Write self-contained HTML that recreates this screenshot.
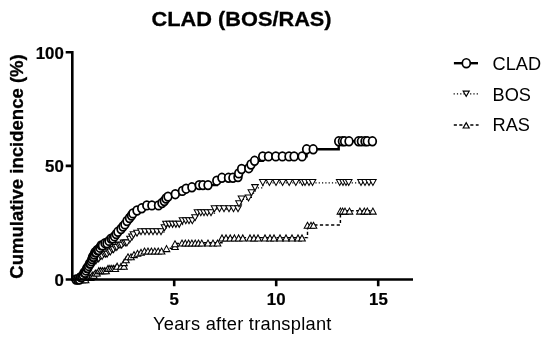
<!DOCTYPE html>
<html><head><meta charset="utf-8"><title>CLAD (BOS/RAS)</title>
<style>html,body{margin:0;padding:0;background:#fff}svg{display:block}</style></head>
<body>
<svg width="550" height="342" viewBox="0 0 550 342">
<rect width="550" height="342" fill="#fff"/>
<g font-family="'Liberation Sans', sans-serif" fill="#000">
<text x="241.6" y="25.5" font-size="20.7" font-weight="bold" text-anchor="middle" stroke="#000" stroke-width="0.3" textLength="180" lengthAdjust="spacingAndGlyphs">CLAD (BOS/RAS)</text>
<text transform="translate(23.3,166.5) rotate(-90)" font-size="18.55" font-weight="bold" text-anchor="middle" stroke="#000" stroke-width="0.3">Cumulative incidence (%)</text>
<text x="242.2" y="330.3" font-size="18.25" text-anchor="middle" textLength="178.4" lengthAdjust="spacing">Years after transplant</text>
<g font-size="15.9" font-weight="bold" stroke="#000" stroke-width="0.2">
<text transform="translate(63.8,58.5) scale(1.06,1)" text-anchor="end">100</text>
<text transform="translate(63.8,171.9) scale(1.06,1)" text-anchor="end">50</text>
<text transform="translate(63.8,285.5) scale(1.06,1)" text-anchor="end">0</text>
<text transform="translate(174.2,305.4) scale(1.06,1)" text-anchor="middle">5</text>
<text transform="translate(276.2,305.4) scale(1.06,1)" text-anchor="middle">10</text>
<text transform="translate(378.4,305.4) scale(1.06,1)" text-anchor="middle">15</text>
</g>
<g font-size="18.2">
<text x="492.6" y="70">CLAD</text>
<text x="492.6" y="100.6">BOS</text>
<text x="492.6" y="131.2">RAS</text>
</g></g>
<g fill="none" stroke="#000">
<path d="M72.2,279.5H80.0V279.5H81.9V279.5H83.7V279.5H85.6V279.5H87.5V277.2H89.1V277.2H90.7V277.2H92.3V275.0H93.8V275.0H95.3V272.7H97.0V272.7H98.8V270.4H100.6V270.4H102.4V270.4H104.3V270.4H106.1V270.4H108.0V268.1H109.9V268.1H111.8V268.1H113.6V268.1H115.3V268.1H117.1V265.9H121.0V266.0H124.0V266.0H124.0V262.3H126.0V259.5H128.0V256.5H131.0V256.5H134.0V254.3H137.5V253.0H141.0V252.0H144.5V250.7H148.0V250.7H151.4V250.7H154.8V250.7H158.2V250.7H161.6V250.7H166.5V248.3H175.0V246.2H175.0V243.5H182.0V242.7H185.3V242.7H188.6V242.7H191.9V242.7H195.2V242.7H198.5V242.7H201.8V242.7H208.0V242.7H213.0V242.7H217.5V242.7H222.0V237.6H226.0V237.6H230.2V237.6H234.4V237.6H238.6V237.6H242.8V237.6H250.0V237.6H254.0V237.6H258.0V237.6H265.0V237.6H270.0V237.6H274.0V237.6H280.0V237.6H286.0V237.6H292.0V237.6H298.0V237.6H302.0V237.6H307.5V225.0H311.0V225.0H313.5V225.0H340.4V210.8H342.6V210.8H345.0V210.8H349.5V210.8H359.9V210.8H364.3V210.8H367.3V210.8H372.9V210.8" stroke-width="1.45" stroke-dasharray="3.2 2.4"/>
<path d="M72.2,279.5H78.0V279.5H79.7V279.5H81.4V277.2H83.1V277.2H84.3V275.0H85.4V275.0H86.6V272.7H87.7V270.4H88.8V270.4H89.9V268.1H91.0V265.9H92.1V263.6H93.2V263.6H94.4V261.3H95.8V261.3H97.2V259.1H98.7V259.1H100.4V256.8H102.1V256.8H103.8V254.5H105.5V254.5H107.1V254.5H108.7V252.3H110.3V252.3H111.9V250.0H113.5V250.0H115.2V247.7H116.8V247.7H118.4V245.4H120.0V245.4H121.7V245.4H123.5V243.2H125.3V243.2H126.9V243.2H130.0V239.5H132.0V237.2H133.5V235.0H137.0V233.5H141.0V232.0H145.0V232.0H149.0V232.0H153.0V232.0H157.0V232.0H161.0V232.0H164.5V228.0H166.0V224.6H169.3V224.6H172.6V224.6H175.9V224.6H179.2V224.6H182.5V221.0H185.8V221.0H189.0V221.0H192.3V221.0H195.0V218.0H197.5V213.0H200.8V213.0H204.0V213.0H207.3V213.0H211.0V213.0H214.5V209.0H219.5V209.0H224.0V209.0H229.0V209.0H233.5V209.0H238.0V209.0H239.0V204.0H241.5V199.3H248.5V198.2H251.4V193.0H255.0V187.9H262.8V182.8H269.4V182.8H276.0V182.8H282.6V182.8H289.2V182.8H295.8V182.8H302.4V182.8H305.0V182.8H309.0V182.8H312.5V182.8H339.7V182.8H343.0V182.8H346.0V182.8H348.7V182.8H361.0V182.8H365.0V182.8H369.0V182.8H372.9V182.8" stroke-width="1.25" stroke-dasharray="1.2 2.1"/>
<path d="M72.2,279.5H76.0V279.5H77.7V279.5H79.4V279.5H80.6V277.2H81.9V277.2H83.1V275.0H84.1V272.7H85.1V272.7H86.0V270.4H86.9V268.1H87.8V268.1H88.6V265.9H89.5V263.6H90.4V263.6H91.2V261.3H91.9V259.1H92.7V256.8H93.5V256.8H94.2V254.5H95.0V252.3H96.0V252.3H97.3V250.0H98.6V250.0H99.9V247.7H101.2V245.4H102.5V245.4H105.0V243.2H107.0V243.2H109.0V240.9H111.0V238.6H112.8V238.6H114.5V236.4H116.2V234.1H117.9V231.8H121.0V229.0H123.0V226.5H124.9V224.4H127.0V221.0H129.5V218.0H131.5V215.5H132.9V213.4H137.0V210.5H141.7V208.3H146.8V205.4H151.9V205.4H158.5V205.4H162.0V203.0H164.3V201.0H166.0V198.5H168.0V196.6H175.3V194.2H182.4V190.9H186.1V188.7H191.9V187.3H199.2V185.1H202.9V185.1H208.0V185.1H216.8V180.7H221.9V177.8H228.5V177.8H232.9V177.8H238.0V177.0H238.7V173.4H241.6V169.0H248.8V168.2H251.0V164.5H254.6V160.8H262.7V156.4H268.5V156.4H275.8V156.4H282.4V156.4H289.0V156.4H294.1V156.4H302.1V156.4H306.6V149.3H313.2V149.3H338.7V141.3H342.4V141.3H344.6V141.3H349.0V141.3H358.5V141.3H361.4V141.3H365.0V141.3H367.3V141.3H372.4V141.3" stroke-width="2.4"/>
</g>
<g fill="#fff" stroke="#000" stroke-width="1.05" stroke-linejoin="miter">
<path d="M76.7,282.8H83.3L80.0,276.8Z"/><path d="M78.6,282.8H85.2L81.9,276.8Z"/><path d="M80.4,282.8H87.0L83.7,276.8Z"/><path d="M82.3,282.8H88.9L85.6,276.8Z"/><path d="M84.2,280.5H90.8L87.5,274.5Z"/><path d="M85.8,280.5H92.4L89.1,274.5Z"/><path d="M87.4,280.5H94.0L90.7,274.5Z"/><path d="M89.0,278.2H95.6L92.3,272.2Z"/><path d="M90.5,278.2H97.1L93.8,272.2Z"/><path d="M92.0,276.0H98.6L95.3,270.0Z"/><path d="M93.7,276.0H100.3L97.0,270.0Z"/><path d="M95.5,273.7H102.1L98.8,267.7Z"/><path d="M97.3,273.7H103.9L100.6,267.7Z"/><path d="M99.1,273.7H105.7L102.4,267.7Z"/><path d="M101.0,273.7H107.6L104.3,267.7Z"/><path d="M102.8,273.7H109.4L106.1,267.7Z"/><path d="M104.7,271.4H111.3L108.0,265.4Z"/><path d="M106.6,271.4H113.2L109.9,265.4Z"/><path d="M108.5,271.4H115.1L111.8,265.4Z"/><path d="M110.3,271.4H116.9L113.6,265.4Z"/><path d="M112.0,271.4H118.6L115.3,265.4Z"/><path d="M113.8,269.2H120.4L117.1,263.2Z"/><path d="M117.7,269.3H124.3L121.0,263.3Z"/><path d="M120.7,269.3H127.3L124.0,263.3Z"/><path d="M120.7,265.6H127.3L124.0,259.6Z"/><path d="M122.7,262.8H129.3L126.0,256.8Z"/><path d="M124.7,259.8H131.3L128.0,253.8Z"/><path d="M127.7,259.8H134.3L131.0,253.8Z"/><path d="M130.7,257.6H137.3L134.0,251.6Z"/><path d="M134.2,256.3H140.8L137.5,250.3Z"/><path d="M137.7,255.3H144.3L141.0,249.3Z"/><path d="M141.2,254.0H147.8L144.5,248.0Z"/><path d="M144.7,254.0H151.3L148.0,248.0Z"/><path d="M148.1,254.0H154.7L151.4,248.0Z"/><path d="M151.5,254.0H158.1L154.8,248.0Z"/><path d="M154.9,254.0H161.5L158.2,248.0Z"/><path d="M158.3,254.0H164.9L161.6,248.0Z"/><path d="M163.2,251.6H169.8L166.5,245.6Z"/><path d="M171.7,249.5H178.3L175.0,243.5Z"/><path d="M171.7,246.8H178.3L175.0,240.8Z"/><path d="M178.7,246.0H185.3L182.0,240.0Z"/><path d="M182.0,246.0H188.6L185.3,240.0Z"/><path d="M185.3,246.0H191.9L188.6,240.0Z"/><path d="M188.6,246.0H195.2L191.9,240.0Z"/><path d="M191.9,246.0H198.5L195.2,240.0Z"/><path d="M195.2,246.0H201.8L198.5,240.0Z"/><path d="M198.5,246.0H205.1L201.8,240.0Z"/><path d="M204.7,246.0H211.3L208.0,240.0Z"/><path d="M209.7,246.0H216.3L213.0,240.0Z"/><path d="M214.2,246.0H220.8L217.5,240.0Z"/><path d="M218.7,240.9H225.3L222.0,234.9Z"/><path d="M222.7,240.9H229.3L226.0,234.9Z"/><path d="M226.9,240.9H233.5L230.2,234.9Z"/><path d="M231.1,240.9H237.7L234.4,234.9Z"/><path d="M235.3,240.9H241.9L238.6,234.9Z"/><path d="M239.5,240.9H246.1L242.8,234.9Z"/><path d="M246.7,240.9H253.3L250.0,234.9Z"/><path d="M250.7,240.9H257.3L254.0,234.9Z"/><path d="M254.7,240.9H261.3L258.0,234.9Z"/><path d="M261.7,240.9H268.3L265.0,234.9Z"/><path d="M266.7,240.9H273.3L270.0,234.9Z"/><path d="M270.7,240.9H277.3L274.0,234.9Z"/><path d="M276.7,240.9H283.3L280.0,234.9Z"/><path d="M282.7,240.9H289.3L286.0,234.9Z"/><path d="M288.7,240.9H295.3L292.0,234.9Z"/><path d="M294.7,240.9H301.3L298.0,234.9Z"/><path d="M298.7,240.9H305.3L302.0,234.9Z"/><path d="M304.2,228.3H310.8L307.5,222.3Z"/><path d="M307.7,228.3H314.3L311.0,222.3Z"/><path d="M310.2,228.3H316.8L313.5,222.3Z"/><path d="M337.1,214.1H343.7L340.4,208.1Z"/><path d="M339.3,214.1H345.9L342.6,208.1Z"/><path d="M341.7,214.1H348.3L345.0,208.1Z"/><path d="M346.2,214.1H352.8L349.5,208.1Z"/><path d="M356.6,214.1H363.2L359.9,208.1Z"/><path d="M361.0,214.1H367.6L364.3,208.1Z"/><path d="M364.0,214.1H370.6L367.3,208.1Z"/><path d="M369.6,214.1H376.2L372.9,208.1Z"/>
</g><g fill="#fff" stroke="#000" stroke-width="1.05" stroke-linejoin="miter">
<path d="M74.7,276.2H81.3L78.0,282.2Z"/><path d="M76.4,276.2H83.0L79.7,282.2Z"/><path d="M78.1,274.0H84.7L81.4,280.0Z"/><path d="M79.8,274.0H86.4L83.1,280.0Z"/><path d="M81.0,271.7H87.6L84.3,277.7Z"/><path d="M82.1,271.7H88.7L85.4,277.7Z"/><path d="M83.3,269.4H89.9L86.6,275.4Z"/><path d="M84.4,267.1H91.0L87.7,273.1Z"/><path d="M85.5,267.1H92.1L88.8,273.1Z"/><path d="M86.6,264.9H93.2L89.9,270.9Z"/><path d="M87.7,262.6H94.3L91.0,268.6Z"/><path d="M88.8,260.3H95.4L92.1,266.3Z"/><path d="M89.9,260.3H96.5L93.2,266.3Z"/><path d="M91.1,258.1H97.7L94.4,264.1Z"/><path d="M92.5,258.1H99.1L95.8,264.1Z"/><path d="M93.9,255.8H100.5L97.2,261.8Z"/><path d="M95.4,255.8H102.0L98.7,261.8Z"/><path d="M97.1,253.5H103.7L100.4,259.5Z"/><path d="M98.8,253.5H105.4L102.1,259.5Z"/><path d="M100.5,251.2H107.1L103.8,257.2Z"/><path d="M102.2,251.2H108.8L105.5,257.2Z"/><path d="M103.8,251.2H110.4L107.1,257.2Z"/><path d="M105.4,249.0H112.0L108.7,255.0Z"/><path d="M107.0,249.0H113.6L110.3,255.0Z"/><path d="M108.6,246.7H115.2L111.9,252.7Z"/><path d="M110.2,246.7H116.8L113.5,252.7Z"/><path d="M111.9,244.4H118.5L115.2,250.4Z"/><path d="M113.5,244.4H120.1L116.8,250.4Z"/><path d="M115.1,242.2H121.7L118.4,248.2Z"/><path d="M116.7,242.2H123.3L120.0,248.2Z"/><path d="M118.4,242.2H125.0L121.7,248.2Z"/><path d="M120.2,239.9H126.8L123.5,245.9Z"/><path d="M122.0,239.9H128.6L125.3,245.9Z"/><path d="M123.6,239.9H130.2L126.9,245.9Z"/><path d="M126.7,236.2H133.3L130.0,242.2Z"/><path d="M128.7,233.9H135.3L132.0,239.9Z"/><path d="M130.2,231.7H136.8L133.5,237.7Z"/><path d="M133.7,230.2H140.3L137.0,236.2Z"/><path d="M137.7,228.7H144.3L141.0,234.7Z"/><path d="M141.7,228.7H148.3L145.0,234.7Z"/><path d="M145.7,228.7H152.3L149.0,234.7Z"/><path d="M149.7,228.7H156.3L153.0,234.7Z"/><path d="M153.7,228.7H160.3L157.0,234.7Z"/><path d="M157.7,228.7H164.3L161.0,234.7Z"/><path d="M161.2,224.7H167.8L164.5,230.7Z"/><path d="M162.7,221.3H169.3L166.0,227.3Z"/><path d="M166.0,221.3H172.6L169.3,227.3Z"/><path d="M169.3,221.3H175.9L172.6,227.3Z"/><path d="M172.6,221.3H179.2L175.9,227.3Z"/><path d="M175.9,221.3H182.5L179.2,227.3Z"/><path d="M179.2,217.7H185.8L182.5,223.7Z"/><path d="M182.5,217.7H189.1L185.8,223.7Z"/><path d="M185.7,217.7H192.3L189.0,223.7Z"/><path d="M189.0,217.7H195.6L192.3,223.7Z"/><path d="M191.7,214.7H198.3L195.0,220.7Z"/><path d="M194.2,209.7H200.8L197.5,215.7Z"/><path d="M197.5,209.7H204.1L200.8,215.7Z"/><path d="M200.7,209.7H207.3L204.0,215.7Z"/><path d="M204.0,209.7H210.6L207.3,215.7Z"/><path d="M207.7,209.7H214.3L211.0,215.7Z"/><path d="M211.2,205.7H217.8L214.5,211.7Z"/><path d="M216.2,205.7H222.8L219.5,211.7Z"/><path d="M220.7,205.7H227.3L224.0,211.7Z"/><path d="M225.7,205.7H232.3L229.0,211.7Z"/><path d="M230.2,205.7H236.8L233.5,211.7Z"/><path d="M234.7,205.7H241.3L238.0,211.7Z"/><path d="M235.7,200.7H242.3L239.0,206.7Z"/><path d="M238.2,196.0H244.8L241.5,202.0Z"/><path d="M245.2,194.9H251.8L248.5,200.9Z"/><path d="M248.1,189.7H254.7L251.4,195.7Z"/><path d="M251.7,184.6H258.3L255.0,190.6Z"/><path d="M259.5,179.5H266.1L262.8,185.5Z"/><path d="M266.1,179.5H272.7L269.4,185.5Z"/><path d="M272.7,179.5H279.3L276.0,185.5Z"/><path d="M279.3,179.5H285.9L282.6,185.5Z"/><path d="M285.9,179.5H292.5L289.2,185.5Z"/><path d="M292.5,179.5H299.1L295.8,185.5Z"/><path d="M299.1,179.5H305.7L302.4,185.5Z"/><path d="M301.7,179.5H308.3L305.0,185.5Z"/><path d="M305.7,179.5H312.3L309.0,185.5Z"/><path d="M309.2,179.5H315.8L312.5,185.5Z"/><path d="M336.4,179.5H343.0L339.7,185.5Z"/><path d="M339.7,179.5H346.3L343.0,185.5Z"/><path d="M342.7,179.5H349.3L346.0,185.5Z"/><path d="M345.4,179.5H352.0L348.7,185.5Z"/><path d="M357.7,179.5H364.3L361.0,185.5Z"/><path d="M361.7,179.5H368.3L365.0,185.5Z"/><path d="M365.7,179.5H372.3L369.0,185.5Z"/><path d="M369.6,179.5H376.2L372.9,185.5Z"/>
</g><g fill="#fff" stroke="#000" stroke-width="1.75">
<ellipse cx="76.0" cy="279.5" rx="3.85" ry="4.35"/><ellipse cx="77.7" cy="279.5" rx="3.85" ry="4.35"/><ellipse cx="79.4" cy="279.5" rx="3.85" ry="4.35"/><ellipse cx="80.6" cy="277.2" rx="3.85" ry="4.35"/><ellipse cx="81.9" cy="277.2" rx="3.85" ry="4.35"/><ellipse cx="83.1" cy="275.0" rx="3.85" ry="4.35"/><ellipse cx="84.1" cy="272.7" rx="3.85" ry="4.35"/><ellipse cx="85.1" cy="272.7" rx="3.85" ry="4.35"/><ellipse cx="86.0" cy="270.4" rx="3.85" ry="4.35"/><ellipse cx="86.9" cy="268.1" rx="3.85" ry="4.35"/><ellipse cx="87.8" cy="268.1" rx="3.85" ry="4.35"/><ellipse cx="88.6" cy="265.9" rx="3.85" ry="4.35"/><ellipse cx="89.5" cy="263.6" rx="3.85" ry="4.35"/><ellipse cx="90.4" cy="263.6" rx="3.85" ry="4.35"/><ellipse cx="91.2" cy="261.3" rx="3.85" ry="4.35"/><ellipse cx="91.9" cy="259.1" rx="3.85" ry="4.35"/><ellipse cx="92.7" cy="256.8" rx="3.85" ry="4.35"/><ellipse cx="93.5" cy="256.8" rx="3.85" ry="4.35"/><ellipse cx="94.2" cy="254.5" rx="3.85" ry="4.35"/><ellipse cx="95.0" cy="252.3" rx="3.85" ry="4.35"/><ellipse cx="96.0" cy="252.3" rx="3.85" ry="4.35"/><ellipse cx="97.3" cy="250.0" rx="3.85" ry="4.35"/><ellipse cx="98.6" cy="250.0" rx="3.85" ry="4.35"/><ellipse cx="99.9" cy="247.7" rx="3.85" ry="4.35"/><ellipse cx="101.2" cy="245.4" rx="3.85" ry="4.35"/><ellipse cx="102.5" cy="245.4" rx="3.85" ry="4.35"/><ellipse cx="105.0" cy="243.2" rx="3.85" ry="4.35"/><ellipse cx="107.0" cy="243.2" rx="3.85" ry="4.35"/><ellipse cx="109.0" cy="240.9" rx="3.85" ry="4.35"/><ellipse cx="111.0" cy="238.6" rx="3.85" ry="4.35"/><ellipse cx="112.8" cy="238.6" rx="3.85" ry="4.35"/><ellipse cx="114.5" cy="236.4" rx="3.85" ry="4.35"/><ellipse cx="116.2" cy="234.1" rx="3.85" ry="4.35"/><ellipse cx="117.9" cy="231.8" rx="3.85" ry="4.35"/><ellipse cx="121.0" cy="229.0" rx="3.85" ry="4.35"/><ellipse cx="123.0" cy="226.5" rx="3.85" ry="4.35"/><ellipse cx="124.9" cy="224.4" rx="3.85" ry="4.35"/><ellipse cx="127.0" cy="221.0" rx="3.85" ry="4.35"/><ellipse cx="129.5" cy="218.0" rx="3.85" ry="4.35"/><ellipse cx="131.5" cy="215.5" rx="3.85" ry="4.35"/><ellipse cx="132.9" cy="213.4" rx="3.85" ry="4.35"/><ellipse cx="137.0" cy="210.5" rx="3.85" ry="4.35"/><ellipse cx="141.7" cy="208.3" rx="3.85" ry="4.35"/><ellipse cx="146.8" cy="205.4" rx="3.85" ry="4.35"/><ellipse cx="151.9" cy="205.4" rx="3.85" ry="4.35"/><ellipse cx="158.5" cy="205.4" rx="3.85" ry="4.35"/><ellipse cx="162.0" cy="203.0" rx="3.85" ry="4.35"/><ellipse cx="164.3" cy="201.0" rx="3.85" ry="4.35"/><ellipse cx="166.0" cy="198.5" rx="3.85" ry="4.35"/><ellipse cx="168.0" cy="196.6" rx="3.85" ry="4.35"/><ellipse cx="175.3" cy="194.2" rx="3.85" ry="4.35"/><ellipse cx="182.4" cy="190.9" rx="3.85" ry="4.35"/><ellipse cx="186.1" cy="188.7" rx="3.85" ry="4.35"/><ellipse cx="191.9" cy="187.3" rx="3.85" ry="4.35"/><ellipse cx="199.2" cy="185.1" rx="3.85" ry="4.35"/><ellipse cx="202.9" cy="185.1" rx="3.85" ry="4.35"/><ellipse cx="208.0" cy="185.1" rx="3.85" ry="4.35"/><ellipse cx="216.8" cy="180.7" rx="3.85" ry="4.35"/><ellipse cx="221.9" cy="177.8" rx="3.85" ry="4.35"/><ellipse cx="228.5" cy="177.8" rx="3.85" ry="4.35"/><ellipse cx="232.9" cy="177.8" rx="3.85" ry="4.35"/><ellipse cx="238.0" cy="177.0" rx="3.85" ry="4.35"/><ellipse cx="238.7" cy="173.4" rx="3.85" ry="4.35"/><ellipse cx="241.6" cy="169.0" rx="3.85" ry="4.35"/><ellipse cx="248.8" cy="168.2" rx="3.85" ry="4.35"/><ellipse cx="251.0" cy="164.5" rx="3.85" ry="4.35"/><ellipse cx="254.6" cy="160.8" rx="3.85" ry="4.35"/><ellipse cx="262.7" cy="156.4" rx="3.85" ry="4.35"/><ellipse cx="268.5" cy="156.4" rx="3.85" ry="4.35"/><ellipse cx="275.8" cy="156.4" rx="3.85" ry="4.35"/><ellipse cx="282.4" cy="156.4" rx="3.85" ry="4.35"/><ellipse cx="289.0" cy="156.4" rx="3.85" ry="4.35"/><ellipse cx="294.1" cy="156.4" rx="3.85" ry="4.35"/><ellipse cx="302.1" cy="156.4" rx="3.85" ry="4.35"/><ellipse cx="306.6" cy="149.3" rx="3.85" ry="4.35"/><ellipse cx="313.2" cy="149.3" rx="3.85" ry="4.35"/><ellipse cx="338.7" cy="141.3" rx="3.85" ry="4.35"/><ellipse cx="342.4" cy="141.3" rx="3.85" ry="4.35"/><ellipse cx="344.6" cy="141.3" rx="3.85" ry="4.35"/><ellipse cx="349.0" cy="141.3" rx="3.85" ry="4.35"/><ellipse cx="358.5" cy="141.3" rx="3.85" ry="4.35"/><ellipse cx="361.4" cy="141.3" rx="3.85" ry="4.35"/><ellipse cx="365.0" cy="141.3" rx="3.85" ry="4.35"/><ellipse cx="367.3" cy="141.3" rx="3.85" ry="4.35"/><ellipse cx="372.4" cy="141.3" rx="3.85" ry="4.35"/>
</g>
<g fill="none" stroke="#000" stroke-width="2.6" stroke-linecap="butt">
<path d="M72.3,51V280.8"/>
<path d="M71,279.5H413"/>
<path d="M65.7,52.3H72.3M65.7,165.9H72.3M65.7,279.5H72.3"/>
<path d="M174.2,279.5V286.2M276.2,279.5V286.2M378.2,279.5V286.2"/>
</g>
<g stroke="#000">
<path d="M453.9,63.2H478" stroke-width="2.4" fill="none"/>
<ellipse cx="466.3" cy="63.2" rx="4.0" ry="4.45" fill="#fff" stroke-width="1.7"/>
<path d="M453.6,93.8H478.4" stroke-width="1.25" stroke-dasharray="1.2 2.1" fill="none"/>
<path d="M463.2,91.2H469.2L466.2,96.4Z" fill="#fff" stroke-width="1.2"/>
<path d="M453.8,124.9H478.6" stroke-width="1.5" stroke-dasharray="3.1 2.4" fill="none"/>
<path d="M463.2,128H469.2L466.2,122.8Z" fill="#fff" stroke-width="1.2"/>
</g>
</svg>
</body></html>
